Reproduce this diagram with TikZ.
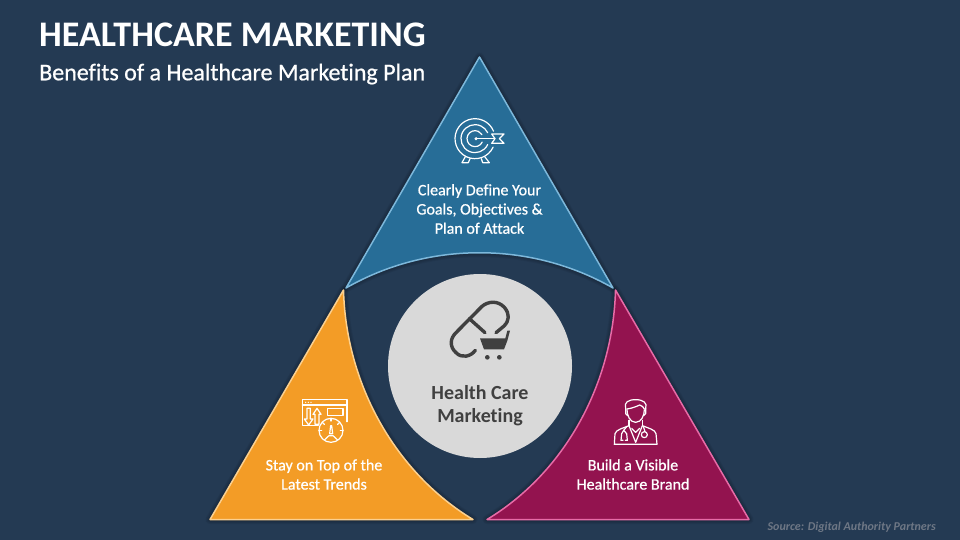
\documentclass[tikz,border=0pt]{standalone}
\usepackage{fontspec}
\setmainfont{Carlito}[Ligatures=NoCommon]
\newfontfamily\semifont{Carlito}[FakeBold=0.7,Ligatures=NoCommon]
\definecolor{bgc}{HTML}{243A53}
\definecolor{bluef}{HTML}{276D97}
\definecolor{blueb}{HTML}{7DB8DB}
\definecolor{orf}{HTML}{F39C26}
\definecolor{orb}{HTML}{FBD08F}
\definecolor{magf}{HTML}{93134F}
\definecolor{magb}{HTML}{E76BA7}
\definecolor{greyc}{HTML}{D9D9D9}
\definecolor{darkt}{HTML}{404040}
\definecolor{srcc}{HTML}{6E7785}
\tikzset{
  lbl/.style={text=white,font=\semifont\fontsize{16}{19.2}\selectfont,align=center,inner sep=0pt},
  ico/.style={draw=white,line width=1.2pt,line cap=round,line join=round},
  pil/.style={draw=darkt,line width=3.4pt,line cap=round,line join=round},
  shd/.style={draw=black,opacity=0.06,line join=round}
}
\newcommand{\topshape}{(479.5,57) -- (613,288) .. controls (531,241) and (428,241) .. (346,288) -- cycle}
\newcommand{\leftshape}{(343.5,290) -- (210,519.5) -- (473,519.5) .. controls (396,473) and (346,385) .. (343.5,290) -- cycle}
\newcommand{\rightshape}{(615.5,290) -- (749,519.5) -- (487,519.5) .. controls (564,473) and (613,385) .. (615.5,290) -- cycle}
\begin{document}
\begin{tikzpicture}[x=1pt,y=-1pt]
\useasboundingbox (0,0) rectangle (960,540);
\fill[bgc] (0,0) rectangle (960,540);
% shadows
\foreach \w in {9,7,5,3}{
  \draw[shd,line width=\w pt] \topshape;
  \draw[shd,line width=\w pt] \leftshape;
  \draw[shd,line width=\w pt] \rightshape;
}
\filldraw[fill=bluef,draw=blueb,line width=1.5pt,line join=round] \topshape;
\filldraw[fill=orf,draw=orb,line width=1.5pt,line join=round] \leftshape;
\filldraw[fill=magf,draw=magb,line width=1.5pt,line join=round] \rightshape;
\fill[greyc] (480,366) circle[radius=92];
% titles
\node[anchor=west,text=white,font=\bfseries\fontsize{36}{40}\selectfont,inner sep=0pt] (title) at (39,34.5) {HEALTHCARE MARKETING};
\node[anchor=west,text=white,font=\semifont\fontsize{24}{28}\selectfont,inner sep=0pt] (sub) at (39,74) {Benefits of a Healthcare Marketing Plan};
% labels
\node[lbl] (t1) at (479.5,209) {Clearly Define Your\\Goals, Objectives \&\\Plan of Attack};
\node[lbl] (t2) at (324,474.5) {Stay on Top of the\\Latest Trends};
\node[lbl] (t3) at (633,474.5) {Build a Visible\\Healthcare Brand};
\node[text=darkt,font=\bfseries\fontsize{20}{23.5}\selectfont,align=center,inner sep=0pt] (t4) at (480,405.5) {Health Care\\Marketing};
\node[anchor=east,text=srcc,font=\bfseries\itshape\fontsize{12}{14}\selectfont,inner sep=0pt] (src) at (936,527) {Source: Digital Authority Partners};
% target icon
\begin{scope}[shift={(420,100)},scale=1/3]
\draw[ico] (219.4,141.4) arc[start angle=25,end angle=338,radius=60];
\draw[ico] (203,133.7) arc[start angle=25,end angle=335,radius=42];
\draw[ico] (186.8,126.1) arc[start angle=25,end angle=330,radius=24];
\fill[white] (168,116) circle[radius=5];
\draw[ico] (168,116) -- (225,116);
\draw[ico] (215,102) -- (252,102) -- (238,116) -- (252,130) -- (215,130) -- (225,116) -- cycle;
\draw[ico] (136,170) -- (126,188) -- (145,188) -- (150,176);
\draw[ico] (194,170) -- (208,188) -- (188,188) -- (184,176);
\end{scope}
% pill & cart icon
\begin{scope}[shift={(430,290)},scale=1/3]
\draw[pil] (136,181) .. controls (122,200) and (95,206) .. (78,188) .. controls (58,170) and (60,145) .. (78,128) -- (155,50) .. controls (175,32) and (205,32) .. (223,52) .. controls (240,72) and (238,92) .. (222,108) -- (198,128);
\draw[pil] (118,86) -- (165,128);
\fill[darkt] (150,145) -- (226,145) -- (232,122) -- (240,122) -- (232,152) -- (222,178) -- (162,178) -- cycle;
\fill[darkt] (172,202) circle[radius=7];
\fill[darkt] (208,202) circle[radius=7];
\end{scope}
% trends icon
\begin{scope}[shift={(285,385)},scale=1/3]
\draw[ico] (100,122) -- (52,122) -- (52,44) -- (186,44) -- (186,110);
\draw[ico] (52,60) -- (186,60);
\fill[white] (62,52) circle[radius=2.2] (70,52) circle[radius=2.2] (78,52) circle[radius=2.2];
\draw[ico] (66,70) -- (76,70) -- (76,102) -- (84,102) -- (71,120) -- (58,102) -- (66,102) -- cycle;
\draw[ico] (90,118) -- (90,88) -- (84,88) -- (96,70) -- (108,88) -- (102,88) -- (102,118) -- cycle;
\draw[ico] (128,70) rectangle (174,92);
\draw[ico] (138,136) circle[radius=36];
\draw[ico] (138,100) -- (138,108);
\draw[ico] (112,112) -- (118,118);
\draw[ico] (164,112) -- (158,118);
\draw[ico] (102,136) -- (110,136);
\draw[ico] (174,136) -- (166,136);
\draw[ico] (134,146) -- (137,122) -- (140,122) -- (143,146) -- cycle;
\draw[ico] (118,165) -- (132,152) -- (144,152) -- (158,165);
\end{scope}
% doctor icon
\begin{scope}[shift={(595,385)},scale=1/3]
\draw[ico] (96,74) .. controls (96,90) and (104,112) .. (122,112) .. controls (140,112) and (148,90) .. (148,74);
\draw[ico] (92,70) .. controls (86,52) and (100,44) .. (122,44) .. controls (145,44) and (158,54) .. (152,70);
\draw[ico] (92,70) -- (92,86) -- (98,92);
\draw[ico] (152,70) -- (152,86) -- (146,92);
\draw[ico] (96,72) .. controls (112,70) and (130,62) .. (134,60) .. controls (140,62) and (146,66) .. (148,72);
\draw[ico] (58,178) -- (60,146) .. controls (62,134) and (88,128) .. (102,122) -- (122,172) -- (142,122) .. controls (156,128) and (182,134) .. (183,146) -- (186,178) -- cycle;
\draw[ico] (102,106) -- (102,122);
\draw[ico] (142,106) -- (142,122);
\draw[ico] (96,124) -- (86,136) -- (80,146) -- (78,166) -- (84,166);
\draw[ico] (86,136) -- (95,146) -- (97,166) -- (91,166);
\draw[ico] (145,124) -- (150,140);
\draw[ico] (148,149) circle[radius=9];
\draw[ico] (110,130) -- (122,142) -- (134,130);
\end{scope}
\end{tikzpicture}
\end{document}
